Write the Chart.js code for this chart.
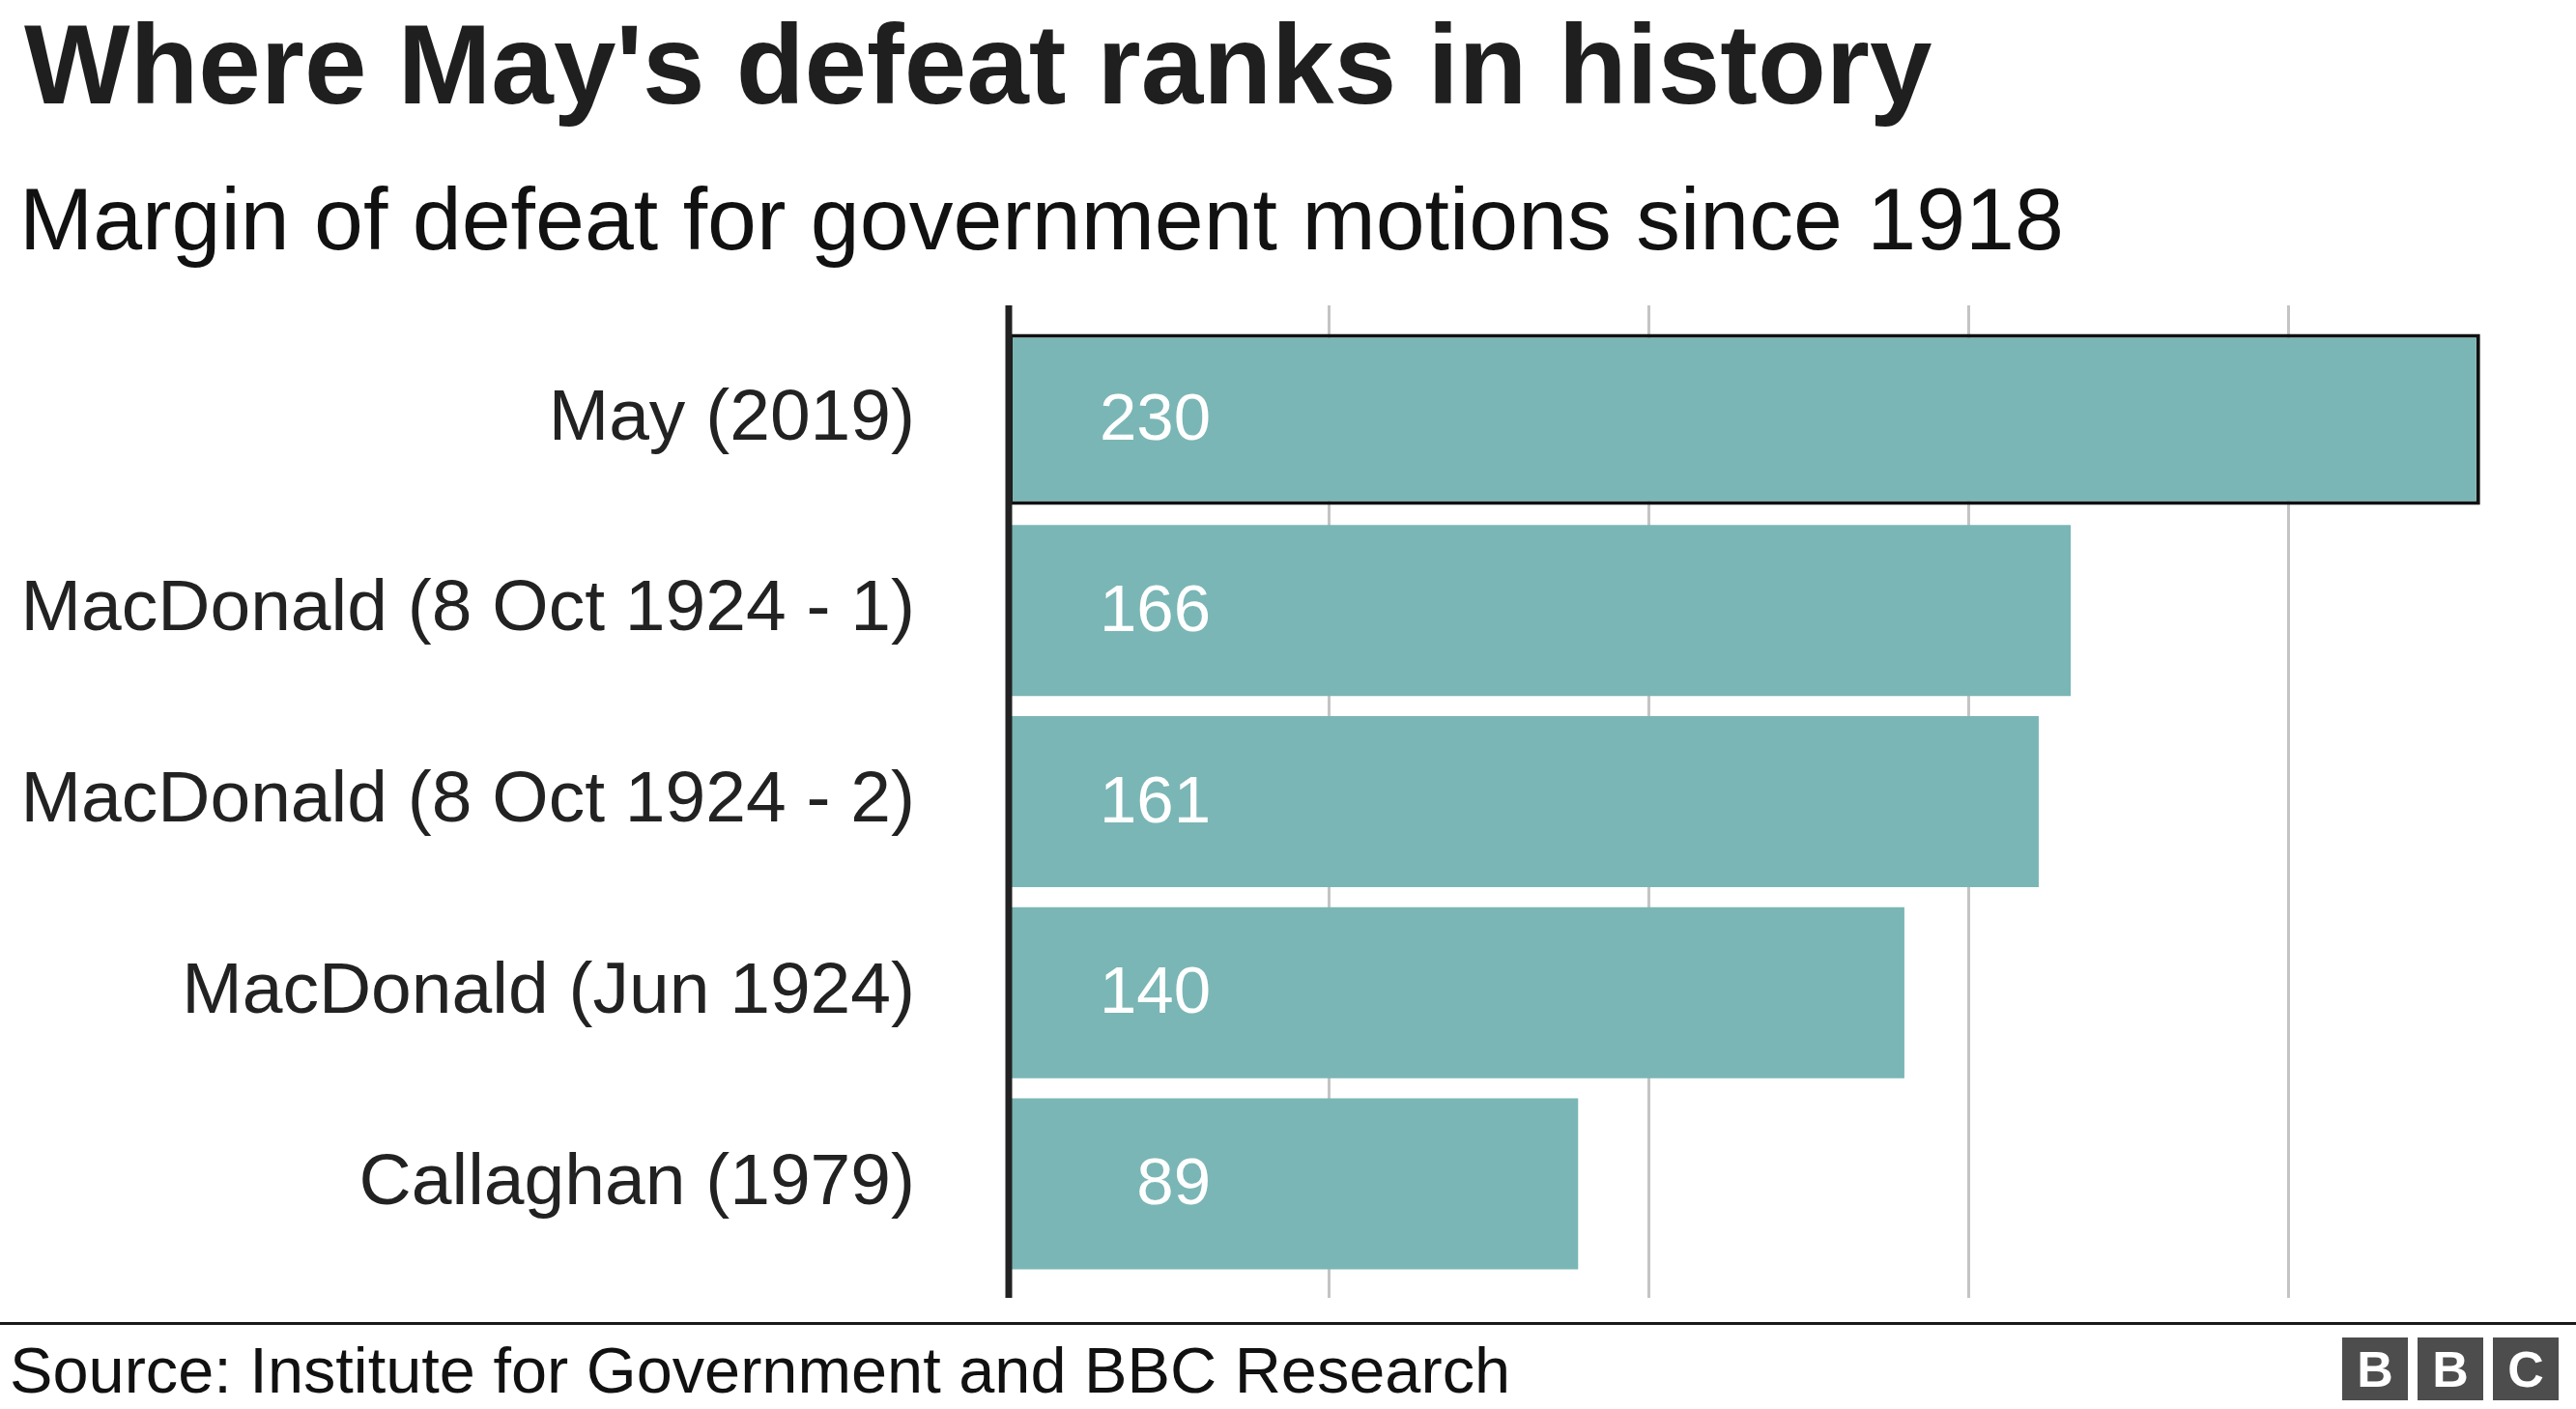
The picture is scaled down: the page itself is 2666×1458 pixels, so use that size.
<!DOCTYPE html>
<html>
<head>
<meta charset="utf-8">
<script src="https://cdn.jsdelivr.net/npm/chart.js@4"></script>
<style>
  html, body { margin: 0; padding: 0; background: #fff; }
  body { width: 2666px; height: 1458px; position: relative; overflow: hidden; font-family: "Liberation Sans", Arial, Helvetica, sans-serif; }
  #chart { position: absolute; left: 0; top: 0; }
  .txt { position: absolute; white-space: nowrap; line-height: 1; }
  #title { left: 25px; top: 9px; font-size: 116px; font-weight: bold; color: #1f1f1f; }
  #subtitle { left: 20px; top: 181px; font-size: 91.5px; color: #111; }
  #rule { position: absolute; left: 0; top: 1368px; width: 2666px; height: 3px; background: #1a1a1a; }
  #source { left: 10px; top: 1385px; font-size: 66.7px; color: #111; }
  .bbc { position: absolute; top: 1384px; width: 68px; height: 65px; background: #4d4d4d; color: #fff;
         font-weight: bold; font-size: 52px; display: flex; align-items: center; justify-content: center; line-height: 1; }
</style>
</head>
<body>
<canvas id="chart" width="2666" height="1458"></canvas>
<div class="txt" id="title">Where May's defeat ranks in history</div>
<div class="txt" id="subtitle">Margin of defeat for government motions since 1918</div>
<div id="rule"></div>
<div class="txt" id="source">Source: Institute for Government and BBC Research</div>
<div class="bbc" style="left:2424px">B</div>
<div class="bbc" style="left:2502px">B</div>
<div class="bbc" style="left:2580px">C</div>
<script>
const categories = ["May (2019)", "MacDonald (8 Oct 1924 - 1)", "MacDonald (8 Oct 1924 - 2)", "MacDonald (Jun 1924)", "Callaghan (1979)"];
const margins = [230, 166, 161, 140, 89];
const gridValues = [50, 100, 150, 200];
const axisMax = 240;

const FONT = '"Liberation Sans", Arial, Helvetica, sans-serif';

const decorPlugin = {
  id: 'decor',
  beforeDatasetsDraw(chart) {
    const { ctx, chartArea, scales } = chart;
    const ext = 19;
    ctx.save();
    ctx.strokeStyle = '#c4c4c4';
    ctx.lineWidth = 3;
    gridValues.forEach(v => {
      const x = Math.round(scales.x.getPixelForValue(v)) + 0.5;
      ctx.beginPath();
      ctx.moveTo(x, chartArea.top - ext);
      ctx.lineTo(x, chartArea.bottom + ext);
      ctx.stroke();
    });
    ctx.restore();
  },
  afterDatasetsDraw(chart) {
    const { ctx, chartArea, scales } = chart;
    const ext = 19;
    const x0 = scales.x.getPixelForValue(0);
    ctx.save();
    ctx.strokeStyle = '#222';
    ctx.lineWidth = 7;
    ctx.beginPath();
    ctx.moveTo(x0, chartArea.top - ext);
    ctx.lineTo(x0, chartArea.bottom + ext);
    ctx.stroke();
    ctx.fillStyle = '#ffffff';
    ctx.font = '69px ' + FONT;
    ctx.textAlign = 'right';
    ctx.textBaseline = 'middle';
    margins.forEach((v, i) => {
      const y = scales.y.getPixelForValue(i);
      ctx.fillText(String(v), x0 + 209, y + 2);
    });
    ctx.restore();
  }
};

new Chart(document.getElementById('chart'), {
  type: 'bar',
  data: {
    labels: categories,
    datasets: [{
      data: margins,
      backgroundColor: '#7ab6b5',
      borderColor: '#111111',
      borderWidth: margins.map((v, i) => i === 0 ? 4 : 0),
      borderSkipped: false,
      categoryPercentage: 1,
      barPercentage: 0.895
    }]
  },
  options: {
    indexAxis: 'y',
    responsive: false,
    animation: false,
    events: [],
    layout: { padding: { left: 0, right: 33, top: 335, bottom: 134 } },
    plugins: { legend: { display: false }, tooltip: { enabled: false }, title: { display: false } },
    scales: {
      x: {
        display: false,
        min: 0,
        max: axisMax
      },
      y: {
        offset: true,
        grid: { display: false, drawTicks: true, tickLength: 97 },
        border: { display: false },
        afterFit(scale) { scale.width = 1044; },
        ticks: {
          color: '#222',
          padding: 0,
          font: { family: FONT, size: 75 }
        }
      }
    }
  },
  plugins: [decorPlugin]
});
</script>
</body>
</html>
